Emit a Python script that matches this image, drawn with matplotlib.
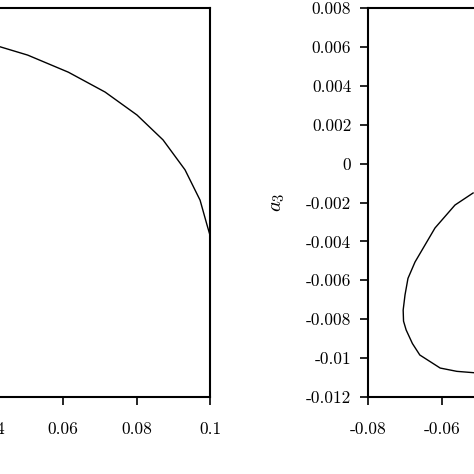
import matplotlib
matplotlib.use("Agg")
import matplotlib.pyplot as plt

# Left panel curve
left_x = [0.0429, 0.0503, 0.0614, 0.0714, 0.0801, 0.0872, 0.0932, 0.0973, 0.0992, 0.1, 0.1]
left_y = [0.900, 0.879, 0.835, 0.784, 0.725, 0.661, 0.584, 0.506, 0.442, 0.416, 0.365]
left_xticks = [0.02, 0.04, 0.06, 0.08, 0.1]
left_xlabels = ["0.02", "0.04", "0.06", "0.08", "0.1"]

# Right panel curve (a_3)
right_x = [-0.0516, -0.0565, -0.0619, -0.0673, -0.0692, -0.0700, -0.0705, -0.0704, -0.0697, -0.0680, -0.0660, -0.0605, -0.0560, -0.0514]
right_y = [-0.00151, -0.00213, -0.00331, -0.00506, -0.00590, -0.00675, -0.00753, -0.00810, -0.00855, -0.00925, -0.00984, -0.01051, -0.01068, -0.01075]
right_yticks = [0.008, 0.006, 0.004, 0.002, 0.0, -0.002, -0.004, -0.006, -0.008, -0.01, -0.012]
right_ylabels = ["0.008", "0.006", "0.004", "0.002", "0", "-0.002", "-0.004", "-0.006", "-0.008", "-0.01", "-0.012"]
right_xticks = [-0.08, -0.06, -0.04, -0.02, 0.0]
right_xlabels = ["-0.08", "-0.06", "-0.04", "-0.02", "0"]

plt.rcParams["font.family"] = ["cmr10", "DejaVu Serif"]
plt.rcParams["mathtext.fontset"] = "cm"
fs = 12.5

fig = plt.figure(figsize=(4.74, 4.74), dpi=100)
ax1 = fig.add_axes([-0.331, 0.1624, 0.774, 0.8207])
ax1.plot(left_x, left_y, color="black", lw=1.0)
ax1.set_xlim(0.0, 0.1)
ax1.set_ylim(0, 1)
ax1.set_xticks(left_xticks)
ax1.set_xticklabels(left_xlabels, fontsize=fs)
ax1.set_yticks([])

ax2 = fig.add_axes([0.7764, 0.1624, 0.6245, 0.8207])
ax2.plot(right_x, right_y, color="black", lw=1.0)
ax2.set_xlim(-0.08, 0.0)
ax2.set_ylim(-0.012, 0.008)
ax2.set_yticks(right_yticks)
ax2.set_yticklabels(right_ylabels, fontsize=fs)
ax2.set_xticks(right_xticks)
ax2.set_xticklabels(right_xlabels, fontsize=fs)
ax2.set_ylabel(r"$a_3$", fontsize=15, labelpad=14)

for ax in (ax1, ax2):
    for s in ax.spines.values():
        s.set_linewidth(1.5)
    ax.tick_params(direction="out", length=6, width=1.2)
    ax.tick_params(axis="x", pad=12)
    ax.tick_params(axis="y", pad=6)

fig.savefig("out.png", dpi=100)
